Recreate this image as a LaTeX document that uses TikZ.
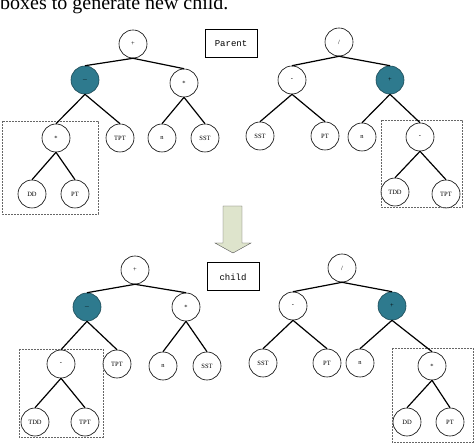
\documentclass[tikz,border=0pt]{standalone}
\usepackage{fontspec}
\setmainfont{Liberation Serif}
\newfontfamily\labelfont{Liberation Mono}
\definecolor{swapfill}{RGB}{46,122,142}
\definecolor{arrowfill}{RGB}{222,228,204}
\begin{document}
\begin{tikzpicture}[x=1pt,y=-1pt,
	op/.style={circle,draw,line width=0.6pt,minimum size=28pt,inner sep=0pt,font=\fontsize{6.5}{7}\selectfont},
	swap/.style={op,fill=swapfill,draw=swapfill!60!black},
	tag/.style={draw,line width=1pt,minimum width=52pt,minimum height=28pt,font=\labelfont\fontsize{9}{10}\selectfont},
	subtree/.style={draw=gray!80!black,dash pattern=on 2pt off 1pt},
	link/.style={line width=1.2pt}]
\useasboundingbox (0,0) rectangle (474,443);
\node[anchor=base west,inner sep=0pt,font=\fontsize{20}{22}\selectfont] (cap) at (0,10) {boxes to generate new child.};

% parent trees
\node[tag] (parent) at (231,44) {Parent};
\node[op] (p1r) at (133,44) {+};
\node[swap] (p1a) at (85,80) {$-$};
\node[op] (p1b) at (184,83) {*};
\node[op] (p1c) at (56,138) {*};
\node[op] (p1t) at (120,138) {TPT};
\node[op] (p1n) at (162,138) {n};
\node[op] (p1s) at (205,138) {SST};
\node[op] (p1d) at (32,194) {DD};
\node[op] (p1p) at (75,194) {PT};
\draw[subtree] (2,121) rectangle (98,214);

\node[op] (p2r) at (339,42) {/};
\node[op] (p2a) at (292,80) {-};
\node[swap] (p2b) at (390,80) {+};
\node[op] (p2s) at (260,136) {SST};
\node[op] (p2p) at (325,136) {PT};
\node[op] (p2n) at (362,137) {n};
\node[op] (p2c) at (420,137) {-};
\node[op] (p2d) at (395,192) {TDD};
\node[op] (p2t) at (446,194) {TPT};
\draw[subtree] (381,120) rectangle (462,207);

% arrow
\draw[gray!70!black,fill=arrowfill] (223,206) -- (242,206) -- (242,243) -- (251,243)
	-- (233,253) -- (215,243) -- (223,243) -- cycle;

% child trees
\node[tag] (child) at (233,277) {child};
\node[op] (c1r) at (135,270) {+};
\node[swap] (c1a) at (87,307) {$-$};
\node[op] (c1b) at (186,307) {*};
\node[op] (c1c) at (61,364) {-};
\node[op] (c1t) at (117,364) {TPT};
\node[op] (c1n) at (163,366) {n};
\node[op] (c1s) at (207,366) {SST};
\node[op] (c1d) at (35,422) {TDD};
\node[op] (c1u) at (85,422) {TPT};
\draw[subtree] (19,349) rectangle (103,437);

\node[op] (c2r) at (342,268) {/};
\node[op] (c2a) at (293,306) {-};
\node[swap] (c2b) at (392,306) {+};
\node[op] (c2s) at (263,363) {SST};
\node[op] (c2p) at (327,363) {PT};
\node[op] (c2n) at (360,363) {n};
\node[op] (c2c) at (432,366) {*};
\node[op] (c2d) at (407,422) {DD};
\node[op] (c2u) at (450,422) {PT};
\draw[subtree] (392,348) rectangle (473,442);

\foreach \u/\v in {p1r/p1a,p1r/p1b,p1a/p1c,p1a/p1t,p1b/p1n,p1b/p1s,p1c/p1d,p1c/p1p,
	p2r/p2a,p2r/p2b,p2a/p2s,p2a/p2p,p2b/p2n,p2b/p2c,p2c/p2d,p2c/p2t,
	c1r/c1a,c1r/c1b,c1a/c1c,c1a/c1t,c1b/c1n,c1b/c1s,c1c/c1d,c1c/c1u,
	c2r/c2a,c2r/c2b,c2a/c2s,c2a/c2p,c2b/c2n,c2b/c2c,c2c/c2d,c2c/c2u}
	\draw[link] (\u.south) -- (\v.north);
\end{tikzpicture}
\end{document}
